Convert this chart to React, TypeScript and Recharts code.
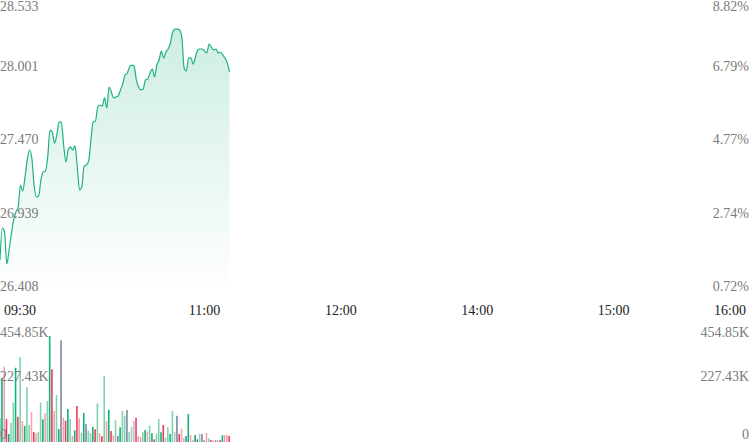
import React from 'react';
import { ComposedChart, Area, XAxis, YAxis, BarChart, Bar, Cell } from 'recharts';

// ---- data ----
const sessionMinutes = 330; // 09:30-12:00, 13:00-16:00
const xTickMinutes = [0, 90, 150, 210, 270, 330];
const xTickLabels = ['09:30', '11:00', '12:00', '14:00', '15:00', '16:00'];

const priceTicks = [26.408, 26.939, 27.47, 28.001, 28.533];
const pctTickLabels = ['0.72%', '2.74%', '4.77%', '6.79%', '8.82%'];

const volTicks = [0, 227.425, 454.85];
const volTickLabels = ['0', '227.43K', '454.85K'];

const prices = [
  26.654, 26.885, 26.856, 26.625, 26.726, 26.842, 26.943, 27.001, 27.037, 27.196,
  27.152, 27.254, 27.377, 27.449, 27.391, 27.196, 27.109, 27.116, 27.232, 27.29,
  27.297, 27.398, 27.593, 27.579, 27.499, 27.557, 27.651, 27.651, 27.485, 27.362,
  27.449, 27.471, 27.449, 27.478, 27.326, 27.16, 27.181, 27.333, 27.34, 27.369,
  27.521, 27.651, 27.658, 27.76, 27.774, 27.767, 27.825, 27.752, 27.904, 27.868,
  27.825, 27.832, 27.839, 27.883, 27.926, 27.991, 28.005, 28.049, 28.063, 28.056,
  27.955, 27.904, 27.883, 27.89, 27.955, 27.962, 28.005, 28.034, 27.977, 28.063,
  28.099, 28.164, 28.114, 28.157, 28.179, 28.222, 28.302, 28.323, 28.323, 28.316,
  28.266, 28.042, 28.02, 28.114, 28.114, 28.07, 28.121, 28.172, 28.179, 28.179,
  28.164, 28.15, 28.215, 28.193, 28.172, 28.179, 28.15, 28.157, 28.136, 28.114,
  28.078, 28.013,
];

// volume in thousands
const volumes = [
  94.1, 251, 295.3, 90.2, 31.4, 75.7, 154.1, 291.3, 99.2, 332.1,
  82.3, 62.7, 214.5, 66.7, 116.5, 39.2, 34.1, 39.2, 155.7, 89.0,
  112.5, 160.8, 415.6, 285.1, 121.6, 184.3, 51.0, 398.8, 95.3, 83.5,
  129.4, 90.2, 24.7, 45.9, 141.2, 92.9, 36.5, 113.7, 70.6, 44.3,
  34.1, 60.0, 49.8, 151.7, 34.1, 22.4, 258.8, 82.3, 126.6, 43.1,
  26.3, 85.1, 23.5, 57.6, 121.6, 103.1, 125.5, 39.2, 58.8, 82.3,
  95.3, 23.5, 19.6, 38.0, 47.1, 40.4, 63.9, 34.1, 10.6, 32.5,
  90.2, 38.0, 66.7, 16.9, 57.6, 31.4, 121.6, 39.2, 103.1, 31.4,
  52.1, 15.7, 23.5, 109.8, 27.4, 7.8, 27.4, 10.6, 31.4, 31.4,
  6.7, 35.3, 14.5, 7.8, 6.7, 6.7, 7.8, 6.7, 26.3, 27.4,
  27.4, 23.5,
];

// G/g = up (strong/weak), D/d = down, F/f = flat
const volTones = (
  'GGdDGggGDg' + 'dGggdDdggG' + 'dgGDdgGFdD' + 'GgdGDdgGFg' + 'gGDgdDgdGD' +
  'dgFGggFgff' + 'DddgGdgGDg' + 'gGDggGgfFD' + 'ddGGddGGfF' + 'FdgDdFfDGd' + 'dD'
).split('');

// ---- styles ----
const W = 750;
const PRICE_H = 326;
const AXIS_H = 32;
const VOL_H = 116;
const FONT = "'Liberation Serif', serif";
const LINE = '#1fb27c';
const LABEL = '#7a7a7a';
const toneColor: Record<string, string> = {
  G: '#12b07a',
  g: '#80d3ad',
  D: '#ec3d5b',
  d: '#f4a2b0',
  F: '#7d88a0',
  f: '#b9c0ce',
};

const priceRows = prices.map((p, i) => ({ t: i, price: p }));
const volRows = volumes.map((v, i) => ({ t: i, vol: v, tone: volTones[i] }));

const makeYTick = (leftLabels: (v: number) => string, rightLabels: (v: number) => string) =>
  (props: any) => {
    const { y, payload } = props;
    const by = Math.max(y - 3, 10.5);
    return (
      <g>
        <text x={0} y={by} textAnchor="start" fill={LABEL} fontSize={14} fontFamily={FONT}>
          {leftLabels(payload.value)}
        </text>
        <text x={W - 1} y={by} textAnchor="end" fill={LABEL} fontSize={14} fontFamily={FONT}>
          {rightLabels(payload.value)}
        </text>
      </g>
    );
  };

const PriceTick = makeYTick(
  (v) => v.toFixed(3),
  (v) => pctTickLabels[priceTicks.indexOf(v)] ?? ''
);
const VolTick = makeYTick(
  (v) => volTickLabels[volTicks.indexOf(v)] ?? '',
  (v) => volTickLabels[volTicks.indexOf(v)] ?? ''
);

const XTick = (props: any) => {
  const { x, y, payload } = props;
  const idx = xTickMinutes.indexOf(payload.value);
  const last = xTickMinutes.length - 1;
  const anchor = idx === 0 ? 'start' : idx === last ? 'end' : 'middle';
  const dx = idx === 0 ? 4 : idx === last ? -4 : 0;
  return (
    <text x={x + dx} y={y + 21} textAnchor={anchor} fill="#222" fontSize={14} fontFamily={FONT}>
      {xTickLabels[idx]}
    </text>
  );
};

export default function App() {
  return (
    <div style={{ width: W, height: PRICE_H + VOL_H, background: '#fff' }}>
      <style>{'body{margin:0;}'}</style>
      <ComposedChart
        width={W}
        height={PRICE_H}
        data={priceRows}
        margin={{ top: 0, right: 0, bottom: 0, left: 0 }}
      >
        <defs>
          <linearGradient id="priceFill" x1="0" y1="0" x2="0" y2="1">
            <stop offset="0%" stopColor={LINE} stopOpacity={0.22} />
            <stop offset="100%" stopColor={LINE} stopOpacity={0} />
          </linearGradient>
        </defs>
        <XAxis
          dataKey="t"
          type="number"
          domain={[0, sessionMinutes]}
          ticks={xTickMinutes}
          interval={0}
          height={AXIS_H}
          axisLine={false}
          tickLine={false}
          tickSize={0}
          tickMargin={0}
          tick={<XTick />}
        />
        <YAxis
          yAxisId="p"
          type="number"
          domain={[priceTicks[0], priceTicks[priceTicks.length - 1]]}
          ticks={priceTicks}
          interval={0}
          width={60}
          mirror
          axisLine={false}
          tickLine={false}
          tickSize={0}
          tickMargin={0}
          allowDataOverflow
          tick={<PriceTick />}
        />
        <Area
          yAxisId="p"
          type="monotone"
          dataKey="price"
          stroke={LINE}
          strokeWidth={1.2}
          fill="url(#priceFill)"
          fillOpacity={1}
          dot={false}
          activeDot={false}
          isAnimationActive={false}
        />
      </ComposedChart>
      <BarChart
        width={W}
        height={VOL_H}
        data={volRows}
        margin={{ top: 0, right: 0, bottom: 0, left: 0 }}
      >
        <XAxis dataKey="t" type="number" domain={[0, sessionMinutes]} hide />
        <YAxis
          type="number"
          domain={[0, volTicks[volTicks.length - 1]]}
          ticks={volTicks}
          interval={0}
          width={60}
          mirror
          axisLine={false}
          tickLine={false}
          tickSize={0}
          tickMargin={0}
          allowDataOverflow
          tick={<VolTick />}
        />
        <Bar dataKey="vol" barSize={1.6} isAnimationActive={false}>
          {volRows.map((r, i) => (
            <Cell key={i} fill={toneColor[r.tone]} />
          ))}
        </Bar>
      </BarChart>
    </div>
  );
}
